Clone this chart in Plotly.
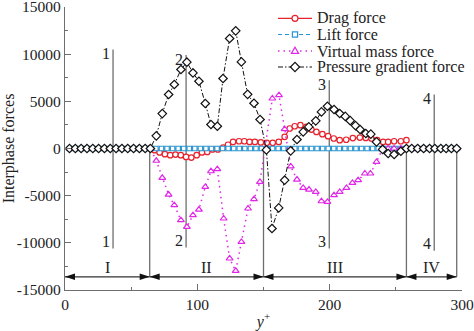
import plotly.graph_objects as go

# ---------------- data ----------------
pg_x = [3.4, 7.8, 12.2, 16.6, 21, 25.4, 29.8, 34.2, 38.6, 43, 47.4, 51.8, 56.2, 60.6, 64.5,
        69, 73.5, 78.3, 82.6, 87.6, 92.1, 96.7, 101.2, 106, 110.3, 115.1, 119.4, 124.4, 129,
        133.3, 138, 142.8, 147.4, 152.2, 156.4, 161.5, 166, 170.5, 175.3, 180, 184.2, 189.5,
        193.8, 198.3, 203.3, 207.6, 211.8, 215.5, 219.5, 223, 227.3, 231.1, 235.4, 240, 244.2,
        248.7, 253.8, 258, 262, 266.5, 271, 275.5, 279.5, 284, 288, 292, 296]
pg_y = [0, 0, 0, 0, 0, 0, 0, 0, 0, 0, 0, 0, 0, 0, 0,
        1340, 3700, 5720, 6780, 8370, 9150, 8010, 7130, 4770, 2540, 2360, 7420, 11660, 12470,
        9180, 5740, 4800, 3070, -150, -8480, -6300, -3360, -250, 950, 1760, 2290, 2930,
        3880, 4480, 4130, 3710, 3400, 2950, 2430, 2010, 1590, 1520, 700, -100, -530,
        -640, -290, 0, 0, 0, 0, 0, 0, 0, 0, 0, 0]

vm_x = [3.4, 7.8, 12.2, 16.6, 21, 25.4, 29.8, 34.2, 38.6, 43, 47.4, 51.8, 56.2, 60.6, 64.5,
        69, 73.5, 78.3, 82.6, 87.6, 92.1, 96.7, 101.2, 106, 110.3, 115.1, 119.9, 124.4, 129,
        133.3, 138.3, 142.8, 147.3, 156.7, 161.7, 166, 170.6, 175.3, 180, 184.4, 189.5,
        193.8, 198.3, 203.3, 207.6, 212.7, 217.2, 221.5, 226.6, 230.8, 235.4, 240, 244.2,
        248.7, 253.8, 258, 262, 266.5, 271, 275.5, 279.5, 284, 288, 292, 296]
vm_y = [0, 0, 0, 0, 0, 0, 0, 0, 0, 0, 0, 0, 0, 0, 0,
        -1300, -3110, -4880, -6010, -7600, -8310, -7070, -6470, -4070, -2410, -2190, -7420, -11660, -12970,
        -9900, -6360, -5370, -3540, 5300, 5650, 2050, -1900, -3290, -4180, -4350, -4600,
        -5590, -5660, -4950, -4600, -4180, -3650, -3360, -2650, -2650, -1420, 0, 0,
        0, 0, 0, 0, 0, 0, 0, 0, 0, 0, 0, 0]

drag_x = [64.5, 67.7, 71.5, 75.5, 79.5, 83.5, 87.5, 91.5, 95.5, 99.5, 103.5, 107.5, 111.5, 115.5,
          119.5, 123.2, 127, 131.5, 135.5, 139.5, 143.5, 148, 152.5, 157, 161.5, 166, 169.8,
          173.6, 177.9, 182.4, 186.2, 190, 194.5, 198.8, 203.1, 207.6, 212.5, 217.5, 222.8,
          227.3, 231.6, 235.9, 240.4, 244.2, 248.7, 253.8, 258]
drag_y = [0, -180, -420, -600, -710, -640, -710, -890, -960, -710, -420, -360, -100, -100,
          100, 400, 700, 770, 770, 700, 700, 640, 600, 600, 700, 1240, 2120,
          2360, 2470, 2290, 2010, 1760, 1520, 1310, 1060, 880, 930, 1100, 1160,
          1120, 1060, 880, 700, 700, 770, 770, 880]

lift_x = [3.4, 7.8, 12.2, 16.6, 21, 25.4, 29.8, 34.2, 38.6, 43, 47.4, 51.8, 56.2, 60.6, 64.5,
          68.7, 72.9, 77.1, 81.3, 85.5, 89.7, 93.9, 98.1, 102.3, 106.5, 110.7, 114.9, 119.1,
          123.3, 127.5, 131.7, 135.9, 140.1, 144.3, 148.5, 152.7, 156.9, 161.1, 165.3, 169.5,
          173.7, 177.9, 182.1, 186.3, 190.5, 194.7, 198.9, 203.1, 207.3, 211.5, 215.7, 219.9,
          224.1, 228.3, 232.5, 236.7, 240.9, 245.1, 249.3, 253.5, 257.7, 262, 266.5, 271,
          275.5, 279.5, 284, 288, 292, 296]
lift_y = [0] * len(lift_x)

series_names = ["Drag force", "Lift force", "Virtual mass force", "Pressure gradient force"]

# marker lines "1".."4": x position, top value, bottom value
probe_names = ["1", "2", "3", "4"]
probe_x = [36.3, 91.5, 199.7, 279]
probe_top = [10500, 9900, 7240, 5720]
probe_bot = [-10600, -10500, -10600, -10850]

# flow regions
region_names = ["I", "II", "III", "IV"]
region_edges = [0, 64, 150, 258, 296]
arrow_level = -13600

ytick_vals = [-15000, -10000, -5000, 0, 5000, 10000, 15000]
ytick_text = ["-15000", "-10000", "-5000", "0", "5000", "10000", "15000"]
xtick_vals = [0, 100, 200, 300]
xtick_text = ["0", "100", "200", "300"]

# ---------------- styling ----------------
SERIF = "Liberation Serif"
AX = "#6e6e6e"
TXT = "#222222"
RED = "#e8222c"
BLUE = "#2a95d0"
MAG = "#e026e6"
BLK = "#111111"

styles = [
    dict(color=RED, dash="solid", lw=1.2, symbol="circle", size=5.5),
    dict(color=BLUE, dash="4px,3px", lw=1.2, symbol="square", size=4.5),
    dict(color=MAG, dash="1.5px,4px", lw=1.5, symbol="triangle-up", size=6),
    dict(color=BLK, dash="5px,2px,1.5px,2px", lw=1.0, symbol="diamond", size=6.5),
]
series = [(drag_x, drag_y), (lift_x, lift_y), (vm_x, vm_y), (pg_x, pg_y)]

fig = go.Figure()
for name, (xs, ys), st in zip(series_names, series, styles):
    fig.add_trace(go.Scatter(x=xs, y=ys, name=name, mode="lines+markers", showlegend=False,
                             line=dict(color=st["color"], width=st["lw"], dash=st["dash"]),
                             marker=dict(symbol=st["symbol"], size=st["size"], color="white",
                                         line=dict(color=st["color"], width=1.2))))

shapes = []
annotations = []

# probe lines with their labels
probe_font = dict(family=SERIF, size=16, color=TXT)
for name, xv, yt, yb in zip(probe_names, probe_x, probe_top, probe_bot):
    shapes.append(dict(type="line", xref="x", yref="y", x0=xv, x1=xv, y0=yb, y1=yt,
                       line=dict(color=AX, width=1.3), layer="below"))
    annotations.append(dict(x=xv, y=yt, xref="x", yref="y", text=name, showarrow=False,
                            xanchor="right", yanchor="middle", xshift=-1, yshift=-4,
                            font=probe_font))
    annotations.append(dict(x=xv, y=yb, xref="x", yref="y", text=name, showarrow=False,
                            xanchor="right", yanchor="middle", xshift=-1, yshift=7,
                            font=probe_font))

# region boundaries
for xe in region_edges[1:]:
    shapes.append(dict(type="line", xref="x", yref="y", x0=xe, x1=xe, y0=arrow_level, y1=0,
                       line=dict(color=AX, width=1.3), layer="below"))

# double arrows with region labels
for i, name in enumerate(region_names):
    a, b = region_edges[i], region_edges[i + 1]
    shapes.append(dict(type="line", xref="x", yref="y", x0=a, x1=b, y0=arrow_level, y1=arrow_level,
                       line=dict(color="#333", width=1.2)))
    for tip, d in ((a, 1), (b, -1)):
        shapes.append(dict(type="path", xref="x", yref="y", xsizemode="pixel", ysizemode="pixel",
                           xanchor=tip, yanchor=arrow_level,
                           path=f"M0,0 L{10 * d},3.2 L{10 * d},-3.2 Z",
                           fillcolor="#111", line=dict(width=0)))
    annotations.append(dict(x=(a + b) / 2, y=arrow_level, xref="x", yref="y", text=name,
                            showarrow=False, yanchor="middle", yshift=9,
                            font=probe_font))

# hand-drawn legend (row spacing as in the reference)
L, R, T, B = 65, 12, 7, 41
PW, PH = 474 - L - R, 331 - T - B
leg_rows_px = [18.3, 34.5, 51, 67]
leg_line_px = (278, 312)
leg_text_px = 315


def px_x(p):
    return (p - L) / PW


def px_y(p):
    return (331 - B - p) / PH


for name, st, row in zip(series_names, styles, leg_rows_px):
    yy = px_y(row)
    shapes.append(dict(type="line", xref="paper", yref="paper", x0=px_x(leg_line_px[0]),
                       x1=px_x(leg_line_px[1]), y0=yy, y1=yy,
                       line=dict(color=st["color"], width=st["lw"], dash=st["dash"])))
    xm = px_x(sum(leg_line_px) / 2)
    c = st["color"]
    if st["symbol"] == "circle":
        shp = dict(type="circle", x0=-3, x1=3, y0=-3, y1=3)
    elif st["symbol"] == "square":
        shp = dict(type="rect", x0=-2.6, x1=2.6, y0=-2.6, y1=2.6)
    elif st["symbol"] == "triangle-up":
        shp = dict(type="path", path="M-3.6,-2.4 L3.6,-2.4 L0,3.8 Z")
    else:
        shp = dict(type="path", path="M0,-4.6 L4.6,0 L0,4.6 L-4.6,0 Z")
    shp.update(xref="paper", yref="paper", xsizemode="pixel", ysizemode="pixel",
               xanchor=xm, yanchor=yy, fillcolor="white", line=dict(color=c, width=1.2))
    shapes.append(shp)
    annotations.append(dict(x=px_x(leg_text_px), y=yy, xref="paper", yref="paper", text=name,
                            showarrow=False, xanchor="left", yanchor="middle",
                            font=dict(family=SERIF, size=16, color=TXT)))

axis_common = dict(showgrid=False, zeroline=False, showline=True, linecolor=AX, linewidth=1.3,
                   ticks="inside", ticklen=6, tickwidth=1.2, tickcolor=AX,
                   ticklabeloverflow="allow", automargin=False,
                   tickfont=dict(family=SERIF, size=15.5, color=TXT), mirror=False)

fig.update_layout(
    width=474, height=331,
    margin=dict(l=L, r=R, t=T, b=B, pad=0, autoexpand=False),
    paper_bgcolor="white", plot_bgcolor="white",
    showlegend=False,
    xaxis=dict(range=[0, 300], tickmode="array", tickvals=xtick_vals, ticktext=xtick_text,
               minor=dict(ticks="inside", ticklen=3, dtick=50, tick0=0, tickcolor=AX),
               title=dict(text="<i>y</i><sup>+</sup>", font=dict(family=SERIF, size=16, color=TXT),
                          standoff=4),
               **axis_common),
    yaxis=dict(range=[-15000, 15000], tickmode="array", tickvals=ytick_vals, ticktext=ytick_text,
               minor=dict(ticks="inside", ticklen=3, dtick=2500, tick0=0, tickcolor=AX),
               title=dict(text="Interphase forces", font=dict(family=SERIF, size=16, color=TXT),
                          standoff=4),
               **axis_common),
    shapes=shapes,
    annotations=annotations,
)

fig.write_html("out.html")
